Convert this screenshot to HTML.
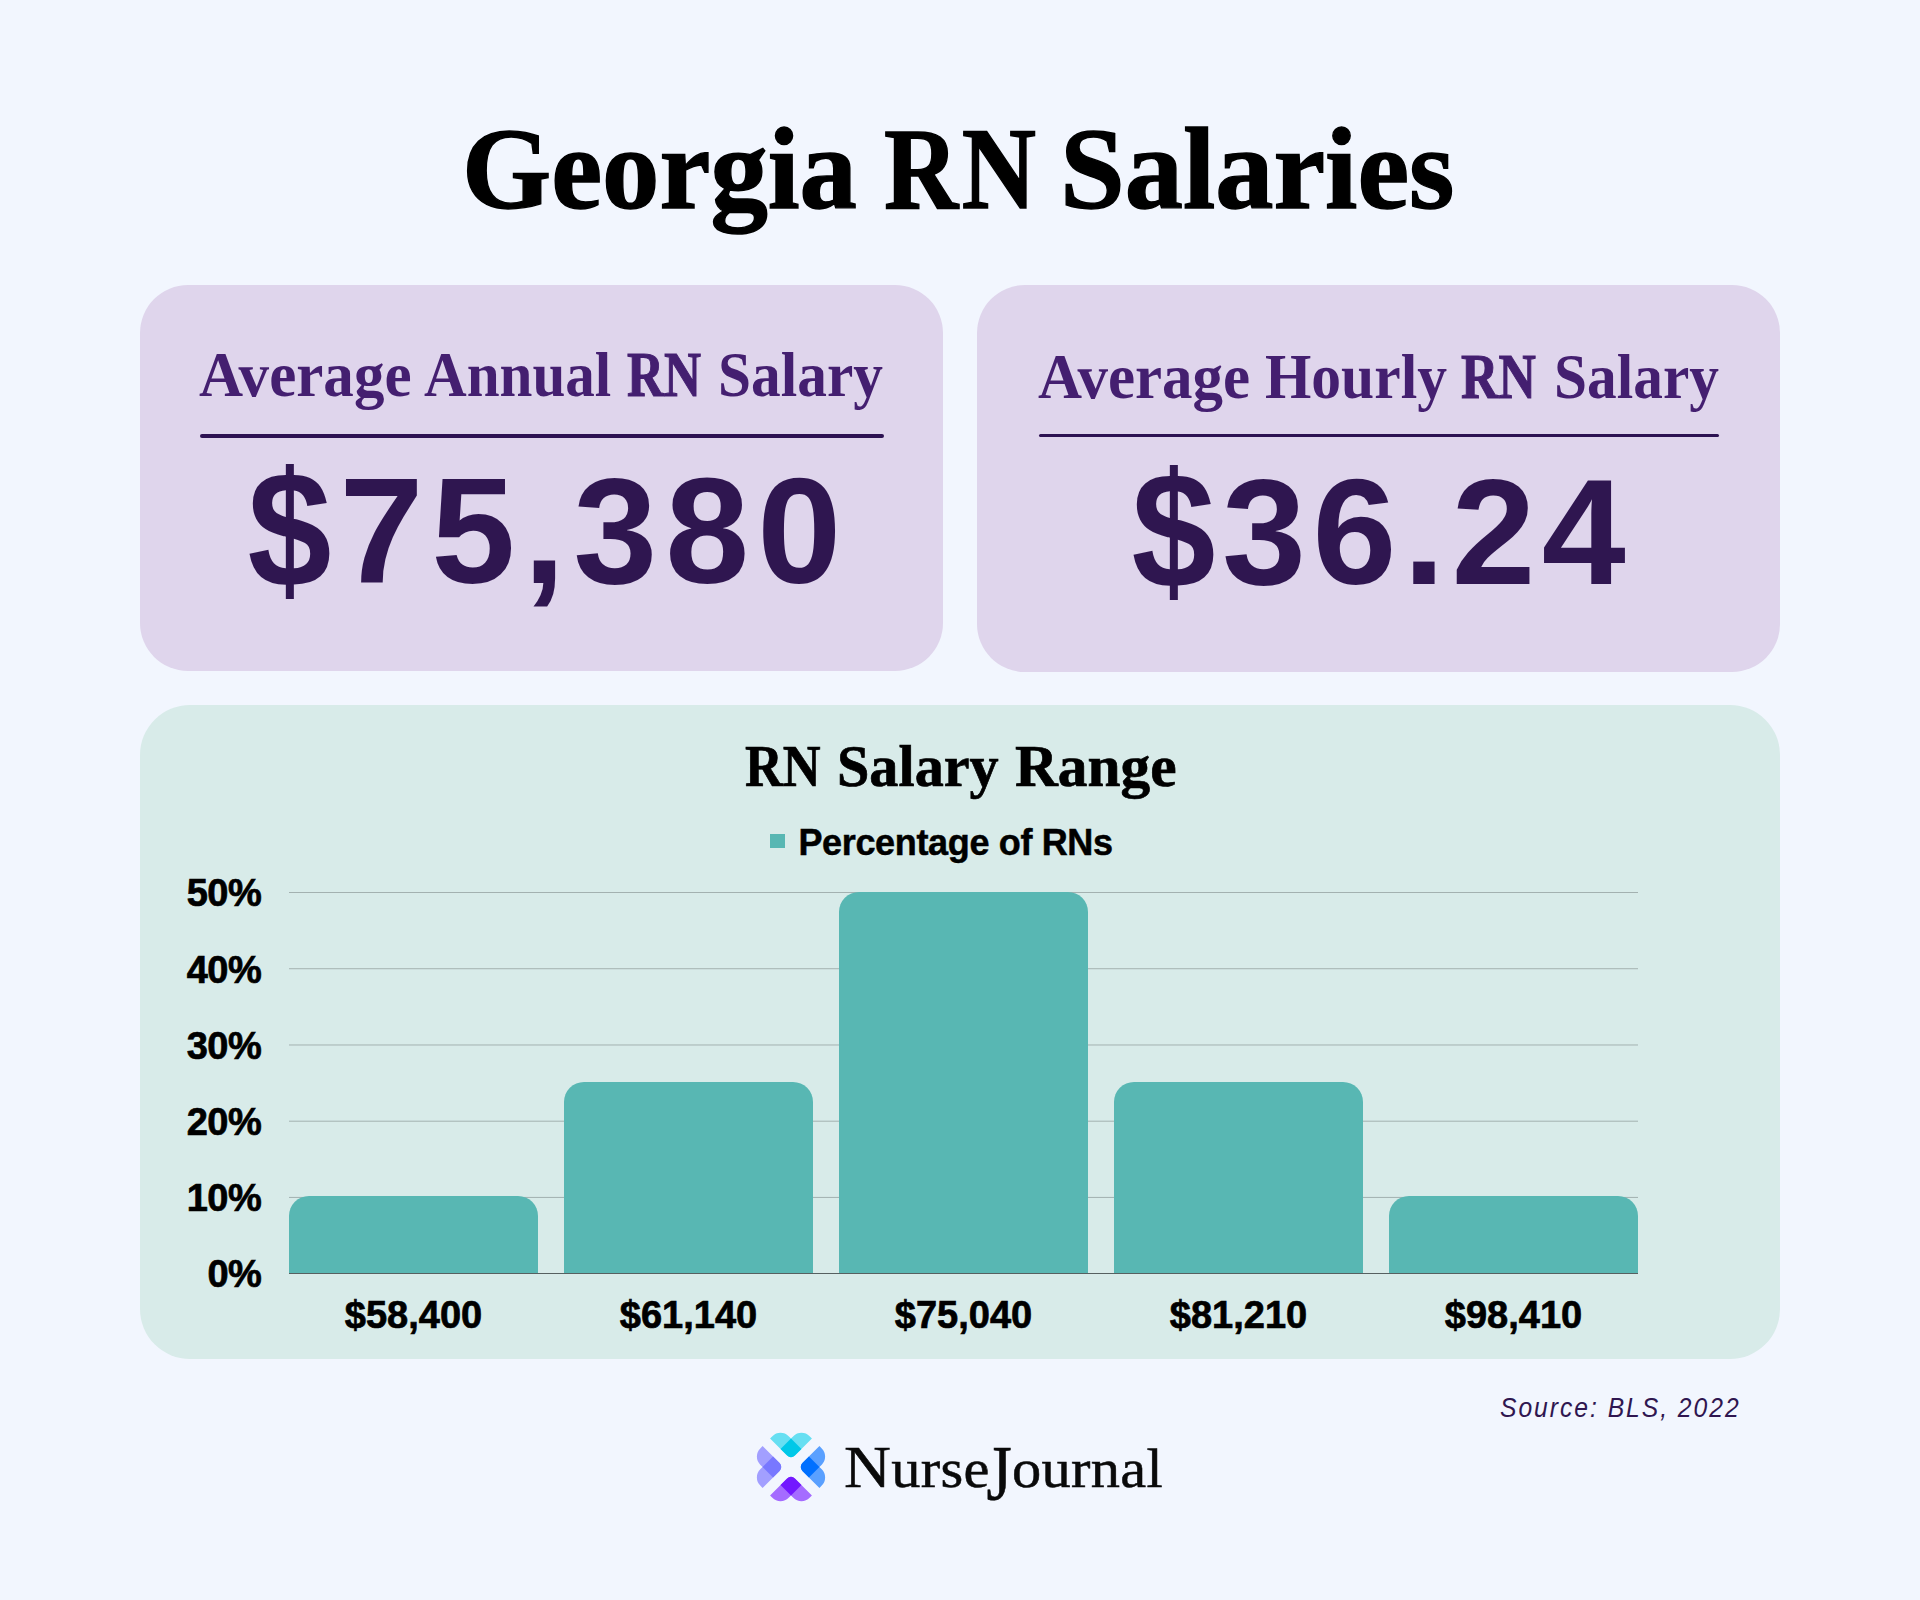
<!DOCTYPE html>
<html lang="en">
<head>
<meta charset="utf-8">
<title>Georgia RN Salaries</title>
<style>
  html, body { margin: 0; padding: 0; }
  body {
    width: 1920px; height: 1600px; overflow: hidden; position: relative;
    background: #F2F6FE;
    font-family: "Liberation Sans", sans-serif;
  }
  .abs { position: absolute; }
  .t { position: absolute; white-space: nowrap; line-height: 1; margin: 0; padding: 0; }
  .serif { font-family: "Liberation Serif", serif; }
  .sans { font-family: "Liberation Sans", sans-serif; }

  /* title */
  #title { left: 0; width: 1920px; height: 117px; top: 110.3px; font-size: 117px; font-weight: 700; color: #000; -webkit-text-stroke: 1.4px #000; }
  .w { position: absolute; top: 0; transform-origin: 0 0; white-space: nowrap; }

  /* stat cards */
  .card { position: absolute; background: #DFD5EC; border-radius: 48px; }
  #card1 { left: 140px; top: 285px; width: 803px; height: 386px; }
  #card2 { left: 977px; top: 285px; width: 803px; height: 387px; }
  .card h2 { left: 0; width: 100%; height: 64px; font-size: 64px; font-weight: 700; color: #441F70; }
  .card .rule { position: absolute; height: 4px; border-radius: 2px; background: #2D1252; top: 149px; }
  .card .big { font-size: 151px; font-weight: 700; color: #2F1650; }
  .card .big .cur { display: inline-block; transform: translateY(-1px) scaleY(1.094); transform-origin: 50% 51%; }

  /* chart panel */
  #panel { position: absolute; left: 140px; top: 705px; width: 1640px; height: 654px; border-radius: 50px; background: #D8EBE9; }
  #ctitle { left: 0; width: 100%; height: 60px; top: 30.8px; font-size: 60px; font-weight: 700; color: #000; -webkit-text-stroke: 0.7px #000; }
  #legend-sq { position: absolute; background: #58B7B3; }
  #legend-tx { font-size: 36px; font-weight: 700; color: #000; letter-spacing: -0.34px; -webkit-text-stroke: 0.5px #000; }
  .axis { position: absolute; left: 149px; width: 1349px; height: 1px; background: #566060; }
  .bar { position: absolute; width: 249px; background: #58B7B3; border-radius: 20px 20px 0 0; }
  .yl { font-size: 38px; font-weight: 700; color: #000; text-align: right; width: 120px; left: 1.3px; letter-spacing: -0.5px; -webkit-text-stroke: 0.7px #000; }
  .xl { font-size: 38px; font-weight: 700; color: #000; text-align: center; width: 249px; -webkit-text-stroke: 0.7px #000; }

  #source { font-size: 27.5px; font-style: italic; color: #2F1650; letter-spacing: 2.2px; transform: scaleX(0.897); transform-origin: 0 0; }
  #brand { font-size: 54px; color: #0A0A0A; letter-spacing: 0.3px; -webkit-text-stroke: 0.5px #0A0A0A; transform: scaleX(1.081); transform-origin: 0 0; }
  #brand .j { display: inline-block; transform: scaleY(1.3); transform-origin: 50% 10.8px; margin-left: -3px; }
  #brand .cap { font-size: 60px; }
</style>
</head>
<body>

<h1 id="title" class="t serif"><span class="w" style="left:462.3px; transform:scaleX(0.9803);">Georgia</span> <span class="w" style="left:883.5px; letter-spacing:4px; transform:scaleX(0.879);">RN</span> <span class="w" style="left:1059.8px; transform:scaleX(0.9948);">Salaries</span></h1>

<section id="card1" class="card">
  <h2 class="t serif" id="h1a" style="top:57.6px;"><span class="w" style="left:58.8px; transform:scaleX(0.9545);">Average</span> <span class="w" style="left:283.5px; transform:scaleX(0.9234);">Annual</span> <span class="w" style="left:486.7px; transform:scaleX(0.8011); -webkit-text-stroke:1.1px #441F70;">RN</span> <span class="w" style="left:578.4px; transform:scaleX(0.9282);">Salary</span></h2>
  <div class="rule" style="left:60px; width:684px;"></div>
  <div class="t sans big" id="big1" style="left:107.4px; top:170.2px; letter-spacing:8px;"><span class="cur">$</span>75,380</div>
</section>

<section id="card2" class="card">
  <h2 class="t serif" id="h1b" style="top:59.8px;"><span class="w" style="left:61.1px; transform:scaleX(0.9527);">Average</span> <span class="w" style="left:288.3px; transform:scaleX(0.9304);">Hourly</span> <span class="w" style="left:484.2px; transform:scaleX(0.8088); -webkit-text-stroke:1.1px #441F70;">RN</span> <span class="w" style="left:577.0px; transform:scaleX(0.9282);">Salary</span></h2>
  <div class="rule" style="left:62px; width:680px; height:3px;"></div>
  <div class="t sans big" id="big2" style="left:154.5px; top:170.9px; letter-spacing:6.5px;"><span class="cur">$</span>36.24</div>
</section>

<section id="panel">
  <h3 class="t serif" id="ctitle"><span class="w" style="left:604.7px; transform:scaleX(0.8729);">RN</span> <span class="w" style="left:697.3px; transform:scaleX(0.9699);">Salary</span> <span class="w" style="left:875.3px; transform:scaleX(0.9894);">Range</span></h3>
  <div id="legend-sq" style="left:629.5px; top:129.3px; width:15px; height:14px;"></div>
  <div class="t sans" id="legend-tx" style="left:658.4px; top:119.6px;">Percentage of RNs</div>

  <svg id="grid" class="abs" style="left:149px; top:0;" width="1349" height="654" viewBox="0 0 1349 654" aria-hidden="true">
    <g stroke="#A3B1B0" stroke-width="1">
      <line x1="0" y1="187.5" x2="1349" y2="187.5"/>
      <line x1="0" y1="263.73" x2="1349" y2="263.73"/>
      <line x1="0" y1="339.97" x2="1349" y2="339.97"/>
      <line x1="0" y1="416.2" x2="1349" y2="416.2"/>
      <line x1="0" y1="492.43" x2="1349" y2="492.43"/>
    </g>
  </svg>

  <div class="bar" id="b1" style="left:149px; top:491px; height:77px;"></div>
  <div class="bar" id="b2" style="left:424px; top:377px; height:191px;"></div>
  <div class="bar" id="b3" style="left:699px; top:187px; height:381px;"></div>
  <div class="bar" id="b4" style="left:974px; top:377px; height:191px;"></div>
  <div class="bar" id="b5" style="left:1249px; top:491px; height:77px;"></div>

  <div class="axis" style="top:568px;"></div>

  <div class="t sans yl" id="y50" style="top:169.3px;">50%</div>
  <div class="t sans yl" id="y40" style="top:245.5px;">40%</div>
  <div class="t sans yl" id="y30" style="top:321.7px;">30%</div>
  <div class="t sans yl" id="y20" style="top:397.9px;">20%</div>
  <div class="t sans yl" id="y10" style="top:474.1px;">10%</div>
  <div class="t sans yl" id="y0"  style="top:550.3px;">0%</div>

  <div class="t sans xl" id="x1" style="left:149px; top:590.6px;">$58,400</div>
  <div class="t sans xl" id="x2" style="left:424px; top:590.6px;">$61,140</div>
  <div class="t sans xl" id="x3" style="left:699px; top:590.6px;">$75,040</div>
  <div class="t sans xl" id="x4" style="left:974px; top:590.6px;">$81,210</div>
  <div class="t sans xl" id="x5" style="left:1249px; top:590.6px;">$98,410</div>
</section>

<div class="t sans" id="source" style="left:1499.8px; top:1394px;">Source: BLS, 2022</div>

<svg id="logo" class="abs" style="left:750.8px; top:1426.9px;" width="80" height="80" viewBox="-40 -40 80 80" role="img" aria-label="NurseJournal logo">
  <g transform="rotate(-135) translate(5.3,5.3)"><path fill="#67DFF2" d="M5.5,0 L29.6,0 L29.6,3.3 A11.5,11.5 0 0 1 18.1,14.8 L14.8,14.8 L14.8,18.1 A11.5,11.5 0 0 1 3.3,29.6 L0,29.6 L0,5.5 A5.5,5.5 0 0 1 5.5,0 Z"/><path fill="#00C8E8" d="M5.5,0 L14.8,0 L14.8,14.8 L0,14.8 L0,5.5 A5.5,5.5 0 0 1 5.5,0 Z"/></g>
  <g transform="rotate(-45) translate(5.3,5.3)"><path fill="#5AA0FF" d="M5.5,0 L29.6,0 L29.6,3.3 A11.5,11.5 0 0 1 18.1,14.8 L14.8,14.8 L14.8,18.1 A11.5,11.5 0 0 1 3.3,29.6 L0,29.6 L0,5.5 A5.5,5.5 0 0 1 5.5,0 Z"/><path fill="#0070FF" d="M5.5,0 L14.8,0 L14.8,14.8 L0,14.8 L0,5.5 A5.5,5.5 0 0 1 5.5,0 Z"/></g>
  <g transform="rotate(45) translate(5.3,5.3)"><path fill="#A56CFF" d="M5.5,0 L29.6,0 L29.6,3.3 A11.5,11.5 0 0 1 18.1,14.8 L14.8,14.8 L14.8,18.1 A11.5,11.5 0 0 1 3.3,29.6 L0,29.6 L0,5.5 A5.5,5.5 0 0 1 5.5,0 Z"/><path fill="#7318FF" d="M5.5,0 L14.8,0 L14.8,14.8 L0,14.8 L0,5.5 A5.5,5.5 0 0 1 5.5,0 Z"/></g>
  <g transform="rotate(135) translate(5.3,5.3)"><path fill="#A29FFF" d="M5.5,0 L29.6,0 L29.6,3.3 A11.5,11.5 0 0 1 18.1,14.8 L14.8,14.8 L14.8,18.1 A11.5,11.5 0 0 1 3.3,29.6 L0,29.6 L0,5.5 A5.5,5.5 0 0 1 5.5,0 Z"/><path fill="#7878FF" d="M5.5,0 L14.8,0 L14.8,14.8 L0,14.8 L0,5.5 A5.5,5.5 0 0 1 5.5,0 Z"/></g>
</svg>

<div class="t serif" id="brand" style="left:843.8px; top:1436.6px;"><span class="cap">N</span>urse<span class="cap j">J</span>ournal</div>

</body>
</html>
